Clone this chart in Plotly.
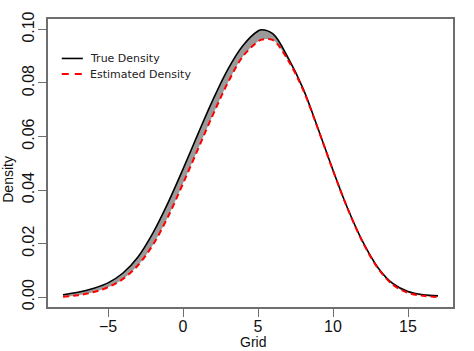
import plotly.graph_objects as go

# ---- data ----
grid = [-8, -7, -6, -5, -4, -3, -2, -1, 0, 1, 2, 3, 4, 5, 5.25, 6, 7, 8, 9, 10,
        11, 12, 13, 14, 15, 16, 17]
true_density = [0.0009, 0.0018, 0.0032, 0.0053, 0.0090, 0.0150, 0.0240, 0.0352,
                0.0478, 0.0610, 0.0738, 0.0852, 0.0940, 0.0994, 0.0999, 0.0983,
                0.0895, 0.0780, 0.0630, 0.0474, 0.0328, 0.0205, 0.0110, 0.0050,
                0.0021, 0.0009, 0.0005]
est_density = [0.0001, 0.0007, 0.0018, 0.0037, 0.0068, 0.0119, 0.0196, 0.0300,
               0.0424, 0.0553, 0.0682, 0.0802, 0.0900, 0.0955, 0.0962, 0.0960,
               0.0885, 0.0775, 0.0628, 0.0473, 0.0327, 0.0203, 0.0107, 0.0046,
               0.0016, 0.0005, 0.0000]
x_ticks = [-5, 0, 5, 10, 15]
y_ticks = [0.00, 0.02, 0.04, 0.06, 0.08, 0.10]
y_ticklabels = ["0.00", "0.02", "0.04", "0.06", "0.08", "0.10"]
legend_labels = ["True Density", "Estimated Density"]

FRAME = "#6e6e6e"
TICKFONT = dict(family="Liberation Sans, Arial, sans-serif", size=16, color="#111")

fig = go.Figure()
# gray band between the curves
fig.add_trace(go.Scatter(x=grid, y=est_density, mode="lines",
                         line=dict(width=0, shape="spline"), hoverinfo="skip",
                         showlegend=False))
fig.add_trace(go.Scatter(x=grid, y=true_density, mode="lines",
                         line=dict(width=0, shape="spline"), fill="tonexty",
                         fillcolor="#9a9a9a", hoverinfo="skip", showlegend=False))
fig.add_trace(go.Scatter(x=grid, y=true_density, mode="lines", name=legend_labels[0],
                         line=dict(color="black", width=1.6, shape="spline"),
                         showlegend=False))
fig.add_trace(go.Scatter(x=grid, y=est_density, mode="lines", name=legend_labels[1],
                         line=dict(color="#ff0000", width=2, dash="6px,4px",
                                   shape="spline"),
                         showlegend=False))

# hand-drawn legend (R style)
LEGFONT = dict(family="DejaVu Sans", size=11, color="#222")
leg_y = [0.863, 0.809]
fig.add_shape(type="line", xref="paper", yref="paper", x0=0.034, x1=0.086,
              y0=leg_y[0], y1=leg_y[0], line=dict(color="black", width=1.6))
fig.add_shape(type="line", xref="paper", yref="paper", x0=0.034, x1=0.086,
              y0=leg_y[1], y1=leg_y[1],
              line=dict(color="#ff0000", width=2, dash="7px,6px"))
for lab, yy in zip(legend_labels, leg_y):
    fig.add_annotation(text=lab, xref="paper", yref="paper", x=0.099, y=yy,
                       xanchor="left", yanchor="middle", showarrow=False,
                       font=LEGFONT)

# axis titles
fig.add_annotation(text="Grid", xref="paper", yref="paper", x=0.507, y=-0.122,
                   xanchor="center", yanchor="middle", showarrow=False,
                   font=dict(family="Liberation Sans, Arial, sans-serif", size=14,
                             color="#111"))
fig.add_annotation(text="Density", xref="paper", yref="paper", x=-0.099, y=0.445,
                   xanchor="center", yanchor="middle", showarrow=False, textangle=-90,
                   font=dict(family="Liberation Sans, Arial, sans-serif", size=14,
                             color="#111"))

fig.update_layout(
    width=474, height=351,
    margin=dict(l=48, r=21, t=15, b=44),
    paper_bgcolor="white", plot_bgcolor="white",
    xaxis=dict(range=[-9, 18], tickmode="array", tickvals=x_ticks,
               ticks="outside", ticklen=8, tickwidth=1.3, tickcolor=FRAME,
               showline=True, linecolor=FRAME, linewidth=1.5, mirror=True,
               showgrid=False, zeroline=False, tickfont=TICKFONT,
               ticklabelstandoff=-4),
    yaxis=dict(range=[-0.0037, 0.1039], tickmode="array", tickvals=y_ticks,
               ticktext=y_ticklabels, tickangle=-90,
               ticks="outside", ticklen=8, tickwidth=1.3, tickcolor=FRAME,
               showline=True, linecolor=FRAME, linewidth=1.5, mirror=True,
               showgrid=False, zeroline=False, tickfont=TICKFONT,
               ticklabelstandoff=-2),
)

fig.write_html("out.html")
